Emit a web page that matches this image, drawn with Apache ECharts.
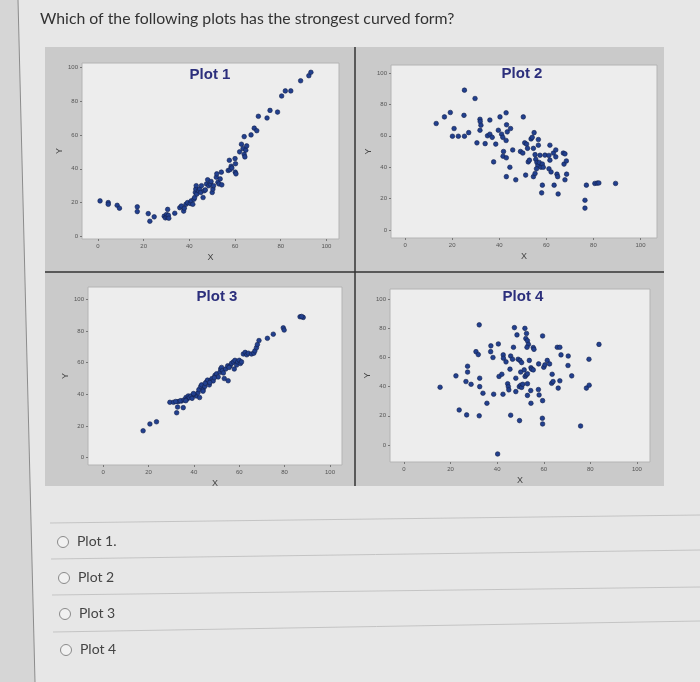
<!DOCTYPE html>
<html>
<head>
<meta charset="utf-8">
<title>Which of the following plots has the strongest curved form?</title>
<script src="https://cdn.jsdelivr.net/npm/echarts@6/dist/echarts.min.js"></script>
<style>
    html, body { margin: 0; padding: 0; background: #e7e7e7; }
    #quiz_chart { width: 700px; height: 682px; }
</style>
</head>
<body>
<div id="quiz_chart"></div>
<script>
// ------------------------------------------------------------------
//  Data
// ------------------------------------------------------------------

var questionText = 'Which of the following plots has the strongest curved form?';
var plotNames = ['Plot 1', 'Plot 2', 'Plot 3', 'Plot 4'];
var answerOptions = ['Plot 1.', 'Plot 2', 'Plot 3', 'Plot 4'];
var axisTicks = [0, 20, 40, 60, 80, 100];

// Plot 1 - curved
var plot1Points = [
    [0.9, 21], [4.5, 20], [4.5, 19], [8.4, 18.4], [9.4, 16.7], [17.2, 17.5], [17.2, 14.7], [22, 13.5], [22.7, 9], [24.6, 11.6],
    [29, 12], [29.5, 11], [30, 13], [30.3, 11.5], [30.8, 12.5], [31, 10.8], [30.5, 16], [33.6, 13.7], [35.8, 17], [36.5, 18],
    [37.5, 15], [37.8, 16.7], [38.5, 19], [39.2, 20], [40.4, 19.5], [40.8, 21], [41.5, 19], [42, 22], [42.3, 23], [42.6, 26],
    [42.8, 28], [43, 30], [43.2, 25], [44, 27], [44.5, 28], [45, 26], [45.3, 30], [46, 23], [46.5, 27], [47, 27.5],
    [47.5, 31], [48, 33.5], [48.5, 30], [49.2, 31], [49.5, 32.5], [50, 26], [50.3, 28], [50.6, 30], [51.8, 35], [52, 37],
    [52.5, 32], [53, 31], [53.5, 34], [54, 38], [54.2, 30.5], [57, 39], [57.5, 45], [57.8, 39.5], [58.3, 41.5], [58.6, 40.5],
    [60, 46], [60.2, 43], [60.1, 38], [60.4, 37], [62, 50], [62.8, 54.5], [63.5, 52], [64, 48.5], [64.3, 47], [64.7, 51],
    [65.1, 53.5], [64, 59], [67, 60], [68.4, 64], [69.5, 62.5], [70.2, 71], [74, 70], [75.3, 74.5], [78.6, 73.5], [80.4, 83],
    [82, 86], [84.4, 86], [88.7, 92], [92.3, 95], [93.2, 97]
];

// Plot 2 - moderate negative
var plot2Points = [
    [13.2, 67.8], [16.7, 72], [19.2, 74.8], [20.1, 59.7], [20.8, 64.6], [22.6, 59.7], [25.2, 59.7], [25.2, 89], [25, 73], [27, 62],
    [29.7, 83.7], [30.5, 55.5], [31.8, 70.5], [31.9, 69], [32.2, 66.7], [31.8, 63.5], [34, 55], [35, 60], [36, 70], [36, 61],
    [37, 59], [37.6, 43.4], [38.5, 54.7], [39.6, 63.5], [40.3, 72], [41, 61], [41.5, 59], [41.8, 50], [41.6, 47], [42.9, 74.6],
    [43.1, 67], [43.4, 62.5], [42.9, 57], [43, 46], [43, 34], [44.8, 64.6], [44.5, 40], [45.7, 51], [47, 32], [49, 50],
    [50, 49], [50.2, 72], [50.8, 55.5], [51.6, 54.7], [51.2, 35], [52, 52], [52.3, 43.4], [52.8, 44.5], [53.5, 58], [54, 59],
    [54.8, 62], [54.5, 52], [54.5, 34], [55.2, 36], [55.2, 48], [55.5, 45], [56, 43], [56.4, 41], [55.8, 39], [56.6, 57.6],
    [56.6, 54], [57.3, 47.6], [57, 43], [57.7, 40], [58.3, 42], [58.7, 40], [58.3, 28.6], [58, 23.7], [59.4, 47.7], [61.5, 54],
    [61.1, 47.5], [61.5, 44.5], [61.1, 39], [62, 37], [63, 49], [63.3, 28.6], [64, 51], [64, 46.6], [64.5, 35.6], [64.8, 34],
    [65, 23], [67.2, 49], [67.5, 42], [67.9, 48.5], [68.5, 44], [68.6, 35.6], [67.9, 32], [76.4, 19], [76.4, 14], [77, 28.6],
    [80.6, 29.7], [81.6, 29.9], [82.3, 30], [89.4, 29.7]
];

// Plot 3 - strong linear
var plot3Points = [
    [17.6, 17], [20.6, 21.3], [23.5, 22.7], [29.4, 35], [32.4, 28.4], [32.8, 32], [33, 35.4], [35.3, 31.6], [34.5, 35.8], [31, 35],
    [32, 35.5], [34, 36], [35.7, 36.5], [36.5, 38], [37, 37], [37.5, 39], [38, 38], [38.7, 39], [39.2, 37.5], [36.4, 36],
    [41, 39], [41.8, 41], [42.2, 43], [43, 45], [43.4, 46], [44.1, 43], [44.8, 45], [45.6, 48], [46, 49], [46.8, 46],
    [47.5, 49], [48, 50], [48.5, 48.5], [49.3, 52], [50, 53], [50.7, 51], [51.5, 54], [51.8, 56], [52.2, 57], [52.6, 55],
    [53.4, 50], [54, 56], [54.9, 58], [55.1, 48.6], [56, 58], [56.6, 59.6], [57.4, 60.5], [58.1, 61.5], [58.8, 58.5], [59.3, 60.5],
    [60, 61.5], [60.5, 59.5], [61, 60.5], [61.8, 65.5], [62.6, 66.5], [63.3, 65], [64, 66], [65.4, 65.5], [66.4, 66], [66.9, 67.5],
    [67.6, 69.5], [68, 71.5], [68.7, 74], [72.4, 75.4], [75, 78], [79.4, 82], [79.8, 80.6], [86.8, 89], [88.2, 88.6], [87.5, 89.2],
    [40, 40], [45, 47], [47, 47.5], [49, 50.5], [53, 53.5], [55.5, 57], [57.8, 56], [44, 42], [42.5, 38], [39.8, 40.5]
];

// Plot 4 - no form
var plot4Points = [
    [15.5, 39.6], [22.3, 47.4], [23.7, 24], [26.6, 43.5], [27.3, 54], [27.3, 50], [26.9, 20.6], [28.8, 41.6], [30.9, 64], [31.9, 62],
    [32.3, 82.4], [32.5, 45.8], [32.5, 40], [32.3, 20], [33.9, 35.5], [35.6, 28.6], [37.3, 68], [37.2, 64], [38.2, 60], [38.5, 34.8],
    [40.5, 69.3], [40.8, 47], [42, 48.5], [40.2, -6.2], [42.6, 61.8], [42.7, 59.5], [43.8, 57], [42.5, 34.8], [44.5, 42], [44.8, 40],
    [45, 37.8], [45.5, 52], [45.8, 61], [45.8, 20.4], [46.6, 58.8], [47, 67], [47.4, 80.5], [48, 36.6], [48, 45.8], [48.5, 75.5],
    [49, 58.8], [49.8, 58], [50.5, 56.5], [49.5, 40], [50.1, 41], [50.5, 39.5], [50.1, 50], [49.6, 16.7], [51, 41.6], [51.6, 51.5],
    [51.9, 80], [52.6, 76.5], [52.3, 73], [53, 71.5], [53.4, 69], [52.8, 67], [52, 47], [52.5, 48], [53, 48.8], [53, 42],
    [53, 34], [53.8, 58], [54.5, 53], [54.8, 52], [55.5, 51.5], [54.4, 37.3], [54.5, 28.6], [55.5, 66.8], [55.8, 65.6], [57.7, 38],
    [58, 34.3], [57.8, 55.6], [59.5, 74.8], [59.5, 30.4], [59.4, 18.3], [59.5, 14.4], [60, 53.3], [60.5, 55], [61.5, 58], [62.5, 55.6],
    [63.4, 42.3], [64, 43.5], [63.6, 48.5], [65.8, 67], [66.9, 67], [67.4, 61.8], [66.2, 39], [66.9, 44], [70.4, 54.5], [70.5, 61],
    [72, 47.4], [75.8, 13], [78.3, 39], [79.5, 41], [79.4, 58.8], [83.7, 69]
];

var plotPoints = [plot1Points, plot2Points, plot3Points, plot4Points];


// ------------------------------------------------------------------
//  Layout (pixel boxes of the four plot areas, axis extents, titles)
// ------------------------------------------------------------------

var panels = [
    { left: 82,  top: 63,  width: 257, height: 176, xr: [-7, 105.5],   yr: [-1.5, 102.5],  tx: 210, ty: 75 },
    { left: 391, top: 65,  width: 266, height: 173, xr: [-6, 107],     yr: [-5, 105],      tx: 522, ty: 74 },
    { left: 88,  top: 287, width: 254, height: 178, xr: [-6.7, 105.3], yr: [-4.6, 107.8],  tx: 217, ty: 297 },
    { left: 390, top: 289, width: 260, height: 173, xr: [-6, 105.6],   yr: [-11.7, 107],   tx: 523, ty: 297 }
];

var optionRows = [
    { line: [50, 523, 700, 515], cx: 63, cy: 542 },
    { line: [51, 559, 700, 550], cx: 64, cy: 578 },
    { line: [52, 595, 700, 587], cx: 65, cy: 614 },
    { line: [53, 632, 700, 621], cx: 66, cy: 650 }
];

var tickFont = { fontSize: 6, color: '#555', fontFamily: 'Liberation Sans, Arial, sans-serif' };
var nameFont = { fontSize: 9, color: '#444', fontFamily: 'Liberation Sans, Arial, sans-serif' };


// ------------------------------------------------------------------
//  Build options
// ------------------------------------------------------------------

var grids = [], xAxes = [], yAxes = [], series = [];

panels.forEach(function (p, i) {
    grids.push({
        left: p.left, top: p.top, width: p.width, height: p.height,
        show: true,
        backgroundColor: '#ededed',
        borderColor: '#b4b4b4',
        borderWidth: 1
    });

    xAxes.push({
        type: 'value',
        gridIndex: i,
        position: 'bottom',
        min: p.xr[0],
        max: p.xr[1],
        name: 'X',
        nameLocation: 'middle',
        nameGap: 14,
        nameTextStyle: nameFont,
        axisLine: { show: false, onZero: false },
        splitLine: { show: false },
        axisTick: { show: true, length: 2, customValues: axisTicks, lineStyle: { color: '#777' } },
        axisLabel: Object.assign({ customValues: axisTicks, margin: 4 }, tickFont)
    });

    yAxes.push({
        type: 'value',
        gridIndex: i,
        position: 'left',
        min: p.yr[0],
        max: p.yr[1],
        name: 'Y',
        nameLocation: 'middle',
        nameGap: 14,
        nameTextStyle: nameFont,
        axisLine: { show: false, onZero: false },
        splitLine: { show: false },
        axisTick: { show: true, length: 2, customValues: axisTicks, lineStyle: { color: '#777' } },
        axisLabel: Object.assign({ customValues: axisTicks, margin: 4 }, tickFont)
    });

    series.push({
        name: plotNames[i],
        type: 'scatter',
        xAxisIndex: i,
        yAxisIndex: i,
        symbolSize: 4.6,
        silent: true,
        itemStyle: {
            color: '#22408f',
            borderColor: '#13204c',
            borderWidth: 0.6,
            opacity: 1
        },
        data: plotPoints[i]
    });
});

// Page furniture: screen edge, grey panel, dividers, question and answers
var graphics = [
    { type: 'polygon', z: -10, shape: { points: [[0, 0], [18, 0], [35, 682], [0, 682]] }, style: { fill: '#d6d6d6' } },
    { type: 'line', z: -9, shape: { x1: 18, y1: 0, x2: 35, y2: 682 }, style: { stroke: '#8c8c8c', lineWidth: 1 } },
    { type: 'rect', z: -10, shape: { x: 45, y: 47, width: 619, height: 439 }, style: { fill: '#cacaca' } },
    { type: 'line', z: 5, shape: { x1: 355, y1: 47, x2: 355, y2: 486 }, style: { stroke: '#333', lineWidth: 1.5 } },
    { type: 'line', z: 5, shape: { x1: 45, y1: 272, x2: 664, y2: 272 }, style: { stroke: '#333', lineWidth: 1.5 } },
    {
        type: 'text', z: 5,
        style: {
            text: questionText, x: 40, y: 19,
            fontSize: 15.8, fontFamily: 'Lato, sans-serif', fill: '#333',
            verticalAlign: 'middle'
        }
    }
];

panels.forEach(function (p, i) {
    graphics.push({
        type: 'text', z: 5,
        style: {
            text: plotNames[i], x: p.tx, y: p.ty,
            fontSize: 15, fontWeight: 'bold', fontFamily: 'Liberation Sans, Arial, sans-serif',
            fill: '#2c2f7c', align: 'center', verticalAlign: 'middle'
        }
    });
});

optionRows.forEach(function (r, i) {
    graphics.push({
        type: 'line', z: 1,
        shape: { x1: r.line[0], y1: r.line[1], x2: r.line[2], y2: r.line[3] },
        style: { stroke: '#c4c4c4', lineWidth: 1 }
    });
    graphics.push({
        type: 'circle', z: 5,
        shape: { cx: r.cx, cy: r.cy, r: 5.5 },
        style: { fill: '#f1f1f1', stroke: '#8a8a8a', lineWidth: 1 }
    });
    graphics.push({
        type: 'text', z: 5,
        style: {
            text: answerOptions[i], x: r.cx + 14, y: r.cy - 1,
            fontSize: 14, fontFamily: 'Lato, sans-serif', fill: '#444',
            verticalAlign: 'middle'
        }
    });
});

var quizOption = {
    backgroundColor: '#e7e7e7',
    animation: false,
    grid: grids,
    xAxis: xAxes,
    yAxis: yAxes,
    series: series,
    graphic: { elements: graphics }
};


// ------------------------------------------------------------------
//  Initialize
// ------------------------------------------------------------------

var quizChart = echarts.init(document.getElementById('quiz_chart'), null, { renderer: 'canvas' });
quizChart.setOption(quizOption);
</script>
</body>
</html>
